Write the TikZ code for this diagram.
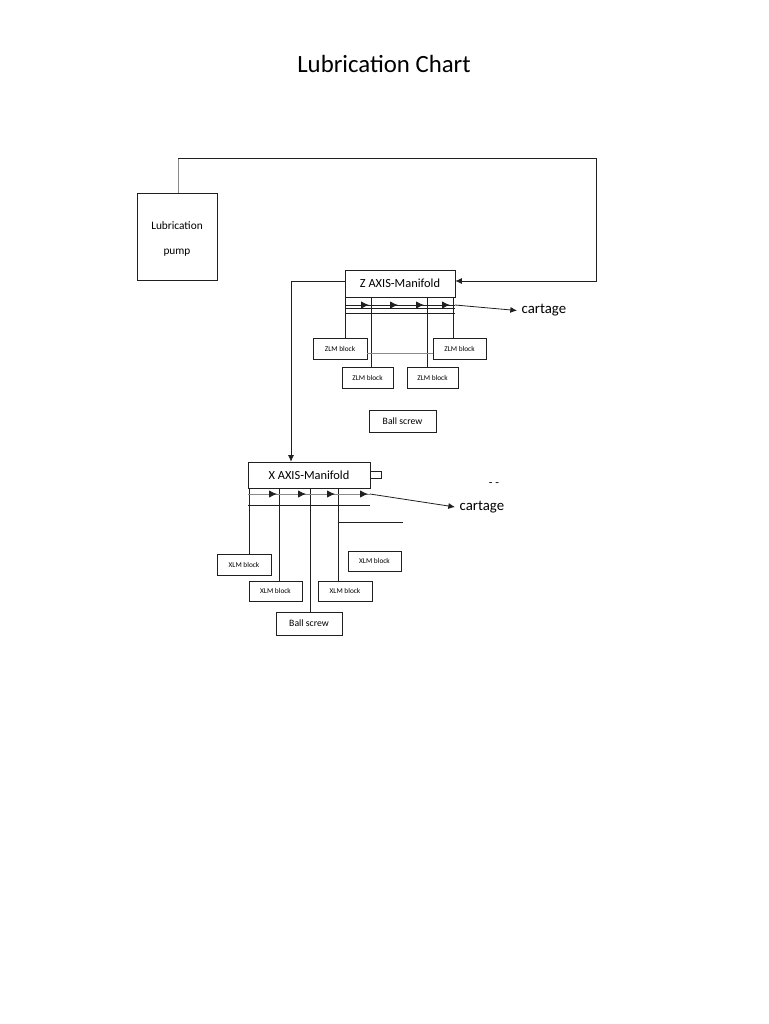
\documentclass[tikz,border=0pt]{standalone}
\usepackage{fontspec}
\setmainfont{Carlito}
\usetikzlibrary{arrows.meta}
\definecolor{lnk}{HTML}{202020}
\definecolor{lgr}{HTML}{8a8a8a}

\begin{document}
\begin{tikzpicture}[x=0.75pt,y=-0.75pt,
  blk/.style={draw=lnk,inner sep=0pt,font=\fontsize{5.5}{6}\selectfont},
  mani/.style={draw=lnk,inner sep=0pt,font=\fontsize{9.3}{11}\selectfont},
  pipe/.style={draw=lnk,line width=0.6pt},
  feed/.style={pipe,-{Latex[length=5pt,width=4.5pt]}},
  flow/.style={pipe,-{Latex[length=6pt,width=5.5pt]}}]
			\useasboundingbox[fill=white] (0,0) rectangle (768,1024);

			\node (title) at (384,64) {\fontsize{18.6}{22}\selectfont Lubrication Chart};

			% pump and return loop
			\node[mani,minimum width=60pt,minimum height=65.25pt,align=center,
			  font=\fontsize{8.5}{18.75}\selectfont] (pump) at (177,236.5) {\rule{0pt}{9pt}Lubrication\\pump};
			\node[mani,minimum width=82.5pt,minimum height=20.25pt] (zman) at (400,283.5) {Z AXIS-Manifold};
			\coordinate (pu) at (178,158);
			\coordinate (pr) at (596,158);
			\coordinate (pd) at (596,281);
			\draw[pipe,lgr] (pump.north -| pu) -- (pu);
			\draw[feed] (pu) -- (pr) -- (pd) -- (zman.east |- pd);

			% Z axis
			\node[blk,minimum width=40.5pt,minimum height=15.75pt] (zlma) at (340,348.5) {ZLM block};
			\node[blk,minimum width=39.75pt,minimum height=15.75pt,line width=0.75pt] (zlmb) at (459.5,348.5) {ZLM block};
			\node[blk,minimum width=38.25pt,minimum height=15.75pt] (zlmc) at (367.5,377.5) {ZLM block};
			\node[blk,minimum width=38.25pt,minimum height=15.75pt] (zlmd) at (432.5,377.5) {ZLM block};
			\node[blk,minimum width=50.25pt,minimum height=16.5pt,font=\fontsize{7.3}{9}\selectfont] (zball) at (402.5,421) {Ball screw};

			\draw[pipe] (345,297) -- (zlma.north -| 345,0);
			\draw[pipe] (371,297) -- (zlmc.north -| 371,0);
			\draw[pipe] (427,297) -- (zlmd.north -| 427,0);
			\draw[pipe] (453,297) -- (zlmb.north -| 453,0);
			\draw[pipe] (345,305) -- (455,305);
			\draw[pipe] (345,308) -- (455,308);
			\draw[pipe] (345,313) -- (455,313);
			\foreach \ax in {369,398,424,450}
			  \draw[flow] (\ax-7,305) -- (\ax,305);
			\draw[pipe,lgr] (zlma.east |- 0,353) -- (zlmb.west |- 0,353);

			\node[anchor=west,font=\fontsize{11.1}{13}\selectfont] (zcart) at (517,310.5) {cartage};
			\draw[feed] (455,305) -- (zcart.west);

			% Z to X
			\node[mani,minimum width=91.5pt,minimum height=19.5pt] (xman) at (309,475) {X AXIS-Manifold};
			\coordinate (zl) at (291,281);
			\draw[feed] (zman.west |- zl) -- (zl) -- (xman.north -| zl);
			\draw[pipe] (370,471) rectangle (381,478);

			% X axis
			\node[blk,minimum width=40.5pt,minimum height=15.75pt] (xlma) at (244,564.5) {XLM block};
			\node[blk,minimum width=39.75pt,minimum height=15pt,line width=0.75pt] (xlmb) at (275.5,591) {XLM block};
			\node[blk,minimum width=40.5pt,minimum height=15pt] (xlmc) at (345,591) {XLM block};
			\node[blk,minimum width=39.75pt,minimum height=15pt] (xlmd) at (374.5,561) {XLM block};
			\node[blk,minimum width=49.5pt,minimum height=17.25pt,line width=0.75pt,font=\fontsize{7.3}{9}\selectfont] (xball) at (309,623.5) {Ball screw};

			\draw[pipe] (249,488) -- (xlma.north -| 249,0);
			\draw[pipe] (279,488) -- (xlmb.north -| 279,0);
			\draw[pipe] (310,488) -- (xball.north -| 310,0);
			\draw[pipe] (338,488) -- (xlmc.north -| 338,0);
			\draw[pipe,lgr] (248,494) -- (370,494);
			\draw[pipe] (248,505) -- (370,505);
			\draw[pipe] (338,522) -- (403,522);
			\foreach \ax in {277,306,335,368}
			  \draw[flow] (\ax-7,494) -- (\ax,494);

			\node[anchor=west,font=\fontsize{11.1}{13}\selectfont] (xcart) at (455,507) {cartage};
			\draw[feed] (370,494) -- (xcart.west);
			\node[font=\fontsize{9}{11}\selectfont] (dash) at (494,485) {- -};
		\end{tikzpicture}
\end{document}
